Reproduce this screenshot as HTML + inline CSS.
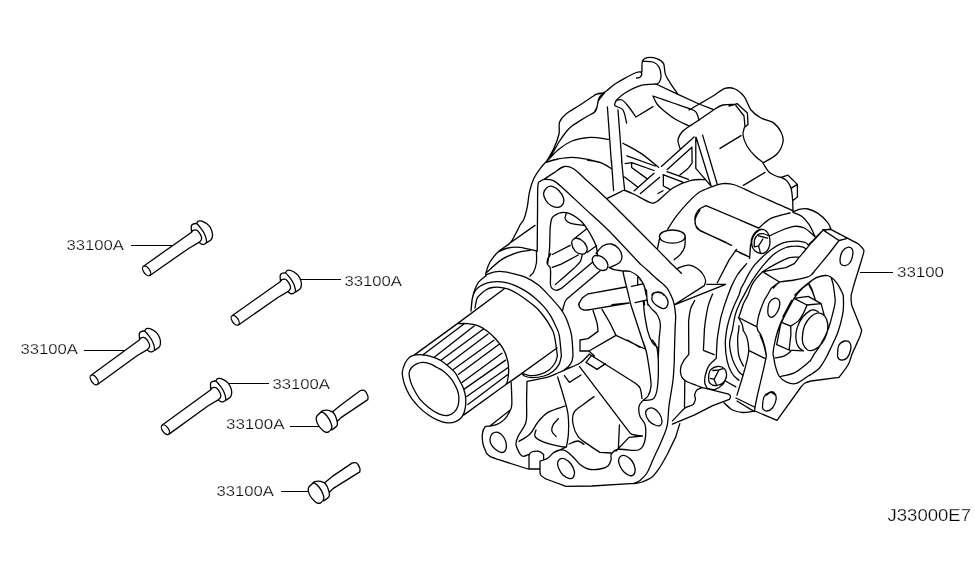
<!DOCTYPE html>
<html><head><meta charset="utf-8"><title>33100</title>
<style>
html,body{margin:0;padding:0;background:#fff;}
body{width:975px;height:566px;overflow:hidden;position:relative;font-family:"Liberation Sans",sans-serif;}
svg{position:absolute;left:0;top:0;will-change:transform;}
.l{fill:none;stroke:#000;stroke-width:1.3;stroke-linecap:round;stroke-linejoin:round;}
text{font-family:"Liberation Sans",sans-serif;font-size:15.2px;fill:#000;stroke:#fff;stroke-width:0.25px;}
</style></head><body>
<svg width="975" height="566" viewBox="0 0 975 566">
<g class="l"><path d="M144.2 265.7L191.6 232.2M150.2 275.2L189.0 248.2L199.4 242.1M191.6 232.2C191.6 231.2 191.1 227.5 191.3 226.2C191.5 224.8 192.1 224.5 193.0 224.1C193.9 223.7 195.4 223.2 196.6 223.7C197.8 224.2 198.9 225.9 200.1 227.3C201.3 228.7 202.7 230.6 203.6 232.2C204.5 233.8 205.2 235.4 205.7 237.1C206.2 238.8 206.7 240.9 206.5 242.1C206.3 243.3 205.1 243.8 204.3 244.2C203.5 244.5 202.3 244.4 201.5 244.2C200.7 244.0 200.0 243.0 199.7 242.8M191.6 232.2C191.8 231.9 192.2 230.8 193.0 230.4C193.8 230.1 195.5 229.7 196.6 230.1C197.7 230.5 198.6 231.7 199.4 232.9C200.2 234.1 201.2 235.9 201.5 237.1C201.8 238.3 201.5 239.2 201.2 240.0C200.8 240.8 199.7 241.8 199.4 242.1M196.6 223.7C196.9 223.3 197.4 221.6 198.3 221.2C199.2 220.8 200.4 220.7 201.9 221.2C203.4 221.7 205.7 222.9 207.2 224.1C208.7 225.3 209.8 226.6 210.7 228.3C211.6 230.0 212.4 232.5 212.5 234.3C212.6 236.1 212.4 237.9 211.4 239.3C210.4 240.7 207.3 242.2 206.5 242.8M232.8 315.2L280.5 281.5M238.8 324.7L277.9 297.5L288.3 291.4M280.5 281.5C280.4 280.5 280.0 276.9 280.2 275.5C280.4 274.1 281.0 273.8 281.9 273.4C282.8 273.0 284.3 272.5 285.5 273.0C286.7 273.5 287.8 275.2 289.0 276.6C290.2 278.0 291.6 279.9 292.5 281.5C293.4 283.1 294.1 284.8 294.6 286.4C295.1 288.0 295.6 290.2 295.4 291.4C295.2 292.6 294.0 293.1 293.2 293.5C292.4 293.9 291.2 293.7 290.4 293.5C289.6 293.3 288.9 292.3 288.6 292.1M280.5 281.5C280.7 281.2 281.1 280.1 281.9 279.7C282.7 279.3 284.4 279.0 285.5 279.4C286.6 279.8 287.5 281.0 288.3 282.2C289.1 283.4 290.1 285.2 290.4 286.4C290.7 287.6 290.5 288.5 290.1 289.3C289.8 290.1 288.6 291.0 288.3 291.4M285.5 273.0C285.8 272.6 286.3 270.9 287.2 270.5C288.1 270.1 289.3 270.0 290.8 270.5C292.3 271.0 294.6 272.2 296.1 273.4C297.6 274.6 298.7 275.9 299.6 277.6C300.5 279.3 301.3 281.8 301.4 283.6C301.5 285.4 301.3 287.2 300.3 288.6C299.3 290.0 296.2 291.5 295.4 292.1M91.8 374.8L139.6 339.7M97.8 384.3L137.0 355.7L147.4 349.6M139.6 339.7C139.6 338.7 139.1 335.0 139.3 333.7C139.5 332.4 140.1 332.0 141.0 331.6C141.9 331.2 143.4 330.7 144.6 331.2C145.8 331.7 146.9 333.4 148.1 334.8C149.3 336.2 150.7 338.1 151.6 339.7C152.5 341.3 153.2 343.0 153.7 344.6C154.2 346.2 154.7 348.4 154.5 349.6C154.3 350.8 153.1 351.4 152.3 351.7C151.5 352.0 150.3 351.9 149.5 351.7C148.7 351.5 148.0 350.5 147.7 350.3M139.6 339.7C139.8 339.4 140.2 338.2 141.0 337.9C141.8 337.5 143.5 337.2 144.6 337.6C145.7 338.0 146.6 339.2 147.4 340.4C148.2 341.6 149.2 343.4 149.5 344.6C149.8 345.8 149.5 346.7 149.2 347.5C148.8 348.3 147.7 349.2 147.4 349.6M144.6 331.2C144.9 330.8 145.4 329.1 146.3 328.7C147.2 328.3 148.4 328.2 149.9 328.7C151.4 329.2 153.7 330.4 155.2 331.6C156.7 332.8 157.8 334.1 158.7 335.8C159.6 337.5 160.4 340.0 160.5 341.8C160.6 343.6 160.4 345.4 159.4 346.8C158.4 348.2 155.3 349.7 154.5 350.3M163.0 424.6L210.8 389.7M169.0 434.1L208.2 405.7L218.6 399.6M210.8 389.7C210.8 388.7 210.3 385.0 210.5 383.7C210.7 382.4 211.3 382.0 212.2 381.6C213.1 381.2 214.6 380.7 215.8 381.2C217.0 381.7 218.1 383.4 219.3 384.8C220.5 386.2 221.9 388.1 222.8 389.7C223.7 391.3 224.4 393.0 224.9 394.6C225.4 396.2 225.9 398.4 225.7 399.6C225.5 400.8 224.3 401.4 223.5 401.7C222.7 402.0 221.5 401.9 220.7 401.7C219.9 401.5 219.2 400.5 218.9 400.3M210.8 389.7C211.0 389.4 211.4 388.2 212.2 387.9C213.0 387.5 214.7 387.2 215.8 387.6C216.9 388.0 217.8 389.2 218.6 390.4C219.4 391.6 220.4 393.4 220.7 394.6C221.0 395.8 220.8 396.7 220.4 397.5C220.1 398.3 218.9 399.2 218.6 399.6M215.8 381.2C216.1 380.8 216.6 379.1 217.5 378.7C218.4 378.3 219.6 378.2 221.1 378.7C222.6 379.2 224.9 380.4 226.4 381.6C227.9 382.8 229.0 384.1 229.9 385.8C230.8 387.5 231.6 390.0 231.7 391.8C231.8 393.6 231.6 395.4 230.6 396.8C229.6 398.2 226.5 399.7 225.7 400.3M316.4 417.1C316.8 415.6 318.5 414.2 319.6 413.4C320.7 412.6 321.6 411.9 322.8 412.3C324.0 412.7 325.7 414.3 327.0 416.0C328.3 417.7 329.9 420.4 330.7 422.4C331.5 424.3 332.1 426.1 331.8 427.7C331.5 429.3 329.8 431.2 328.6 431.9C327.5 432.6 326.3 432.6 324.9 431.9C323.5 431.2 321.4 429.3 320.1 427.7C318.8 426.1 317.6 424.2 317.0 422.4C316.4 420.6 316.0 418.6 316.4 417.1ZM319.6 413.4C320.1 412.9 321.3 411.2 322.8 410.7C324.3 410.2 326.8 410.0 328.6 410.4C330.4 410.8 332.1 411.3 333.4 412.8C334.7 414.3 336.0 417.1 336.6 419.2C337.2 421.3 337.9 423.8 337.1 425.6C336.3 427.4 332.7 429.1 331.8 429.8M333.0 411.5L340.3 405.4L360.4 390.6M360.4 390.6C361.1 390.6 363.4 389.7 364.6 390.6C365.8 391.5 367.3 394.4 367.8 395.9C368.3 397.4 367.8 399.0 367.8 399.6M337.2 421.5L341.0 417.6L367.8 399.6M308.4 488.1C308.8 486.6 310.5 485.2 311.6 484.4C312.7 483.6 313.6 482.9 314.8 483.3C316.0 483.7 317.7 485.3 319.0 487.0C320.3 488.7 321.9 491.4 322.7 493.4C323.5 495.3 324.1 497.1 323.8 498.7C323.5 500.3 321.8 502.2 320.6 502.9C319.5 503.6 318.3 503.6 316.9 502.9C315.5 502.2 313.4 500.3 312.1 498.7C310.8 497.1 309.6 495.2 309.0 493.4C308.4 491.6 308.0 489.6 308.4 488.1ZM311.6 484.4C312.1 483.9 313.3 482.2 314.8 481.7C316.3 481.2 318.8 481.0 320.6 481.4C322.4 481.8 324.1 482.3 325.4 483.8C326.7 485.3 328.0 488.1 328.6 490.2C329.2 492.3 329.9 494.8 329.1 496.6C328.3 498.4 324.7 500.1 323.8 500.8M325.0 482.5L332.3 476.4L352.4 462.9M352.4 462.9C353.1 462.9 355.4 462.0 356.6 462.9C357.8 463.8 359.3 466.7 359.8 468.2C360.3 469.7 359.8 471.3 359.8 471.9M329.2 492.5L333.0 488.6L359.8 471.9M595.0 94.4C596.5 94.1 600.7 94.3 604.0 92.6C607.3 90.9 611.2 86.6 615.0 84.0C618.8 81.4 623.7 78.8 627.0 77.0C630.3 75.2 632.7 73.8 635.0 73.0C637.3 72.2 639.5 71.7 640.6 72.0C641.7 72.3 641.8 74.1 641.6 75.0C641.4 75.9 640.2 77.1 639.4 77.6C638.6 78.1 637.1 77.9 636.6 78.0M642.0 71.6C642.1 69.9 641.5 63.7 642.4 61.4C643.3 59.1 644.9 58.0 647.4 57.6C649.9 57.2 654.7 57.8 657.4 58.8C660.1 59.8 662.3 61.0 663.6 63.6C664.9 66.2 664.2 71.1 665.4 74.4C666.6 77.7 668.5 80.3 670.6 83.6C672.7 86.9 676.8 92.6 678.0 94.4M642.4 61.4C644.2 61.5 650.2 61.1 653.0 62.0C655.8 62.9 657.7 64.7 659.0 67.0C660.3 69.3 660.9 73.5 661.0 76.0C661.1 78.5 660.2 80.6 659.4 82.0C658.6 83.4 656.6 84.0 656.0 84.4M616.0 100.4C617.5 99.2 620.8 95.5 625.0 93.0C629.2 90.5 635.8 86.9 641.0 85.4C646.2 83.9 653.5 84.2 656.0 84.0M656.0 84.0L678.0 94.4L699.0 104.0L713.0 109.4M700.0 103.6C702.2 102.3 708.8 98.5 713.0 96.0C717.2 93.5 721.3 89.6 725.0 88.4C728.7 87.2 731.8 87.7 735.0 89.0C738.2 90.3 741.3 92.9 744.0 96.4C746.7 99.9 748.2 106.4 751.0 110.0C753.8 113.6 757.3 115.9 761.0 118.0C764.7 120.1 769.7 120.1 773.0 122.4C776.3 124.7 779.3 128.7 781.0 132.0C782.7 135.3 783.7 138.3 783.0 142.0C782.3 145.7 780.2 150.6 777.0 154.0C773.8 157.4 766.2 161.0 764.0 162.4M689.0 110.0L701.0 103.0M653.0 96.0C656.3 97.2 666.3 100.7 673.0 103.0C679.7 105.3 689.0 108.2 693.0 110.0C697.0 111.8 696.0 112.3 697.0 114.0C698.0 115.7 698.7 119.3 699.0 120.4M653.0 96.0C653.7 97.3 655.3 101.7 657.0 104.0C658.7 106.3 660.0 107.5 663.0 110.0C666.0 112.5 670.7 116.3 675.0 119.0C679.3 121.7 686.7 124.8 689.0 126.0M689.0 126.4C690.7 125.3 694.7 122.9 699.0 120.0C703.3 117.1 711.0 111.5 715.0 109.0C719.0 106.5 719.7 105.8 723.0 105.0C726.3 104.2 733.0 104.5 735.0 104.4M729.0 106.0L735.0 104.4L737.0 103.6M735.0 104.4L744.0 116.0L745.0 127.0M737.0 103.6L747.4 113.0L748.0 124.4L745.0 127.0M689.0 126.4C687.8 127.3 683.8 129.7 682.0 132.0C680.2 134.3 678.3 137.3 678.0 140.0C677.7 142.7 679.7 147.0 680.0 148.4M653.0 106.6L636.0 117.0M616.0 100.4C617.0 100.3 620.0 99.1 622.0 100.0C624.0 100.9 625.7 103.2 628.0 106.0C630.3 108.8 634.7 115.2 636.0 117.0M616.0 101.0C615.8 101.8 613.8 104.1 615.0 105.6C616.2 107.1 621.1 107.1 623.0 110.0C624.9 112.9 626.0 120.8 626.6 123.0M607.4 107.0L611.4 163.0M618.0 110.0L622.0 163.0M604.0 93.0C603.2 93.8 600.2 95.7 599.0 98.0C597.8 100.3 597.7 104.8 597.0 107.0C596.3 109.2 595.3 110.3 595.0 111.0M720.0 148.4L741.0 135.6M744.6 127.0C744.3 128.3 742.6 131.8 743.0 135.0C743.4 138.2 745.0 142.5 747.0 146.0C749.0 149.5 752.3 153.3 755.0 156.0C757.7 158.7 761.7 161.3 763.0 162.4M546.0 162.4C547.3 160.0 551.8 152.7 554.0 148.0C556.2 143.3 558.1 138.3 559.0 134.0C559.9 129.7 558.4 125.3 559.6 122.0C560.8 118.7 562.6 116.8 566.0 114.0C569.4 111.2 575.2 108.2 580.0 105.0C584.8 101.8 591.7 97.0 595.0 95.0C598.3 93.0 598.0 93.5 599.6 93.2C601.2 92.9 603.6 93.0 604.4 93.0M604.4 93.0C603.4 94.3 599.9 98.0 598.4 101.0C596.9 104.0 597.7 108.3 595.6 111.0C593.5 113.7 589.9 114.5 586.0 117.0C582.1 119.5 575.3 123.5 572.0 126.0C568.7 128.5 568.2 129.3 566.0 132.0C563.8 134.7 561.3 138.3 559.0 142.0C556.7 145.7 554.1 150.7 552.0 154.0C549.9 157.3 547.3 160.7 546.4 162.0M546.4 162.0C548.3 160.0 553.7 153.5 558.0 150.0C562.3 146.5 566.7 143.1 572.0 141.0C577.3 138.9 583.8 137.7 590.0 137.4C596.2 137.1 605.8 139.1 609.0 139.4M546.4 162.4C548.3 161.8 553.7 159.8 558.0 159.0C562.3 158.2 567.0 157.3 572.0 157.4C577.0 157.5 583.5 158.6 588.0 159.4C592.5 160.2 597.2 161.9 599.0 162.4M544.0 179.4C545.7 178.2 550.8 174.7 554.2 172.6C557.5 170.4 561.1 167.1 564.3 166.5C567.5 165.8 570.2 166.7 573.5 168.7C576.9 170.7 578.9 173.3 584.6 178.5C590.3 183.6 595.7 188.0 607.7 199.7C619.7 211.4 646.0 237.9 656.6 248.6C667.2 259.3 668.9 261.2 671.4 263.8M537.2 251.4C537.2 245.4 537.4 226.3 537.5 215.4C537.7 204.5 537.4 191.5 537.9 185.8C538.4 180.2 539.1 182.3 540.3 181.2C541.5 180.2 542.8 179.5 544.9 179.4C547.1 179.3 550.3 179.3 553.2 180.7C556.2 182.1 557.2 183.1 562.5 187.7C567.7 192.3 576.9 201.2 584.6 208.4C592.3 215.5 599.4 221.3 608.6 230.5C617.8 239.8 634.8 258.2 640.0 263.8M543.6 193.2C543.8 191.2 545.3 188.8 546.8 187.7C548.2 186.6 550.3 185.9 552.3 186.4C554.3 186.9 556.9 188.6 558.8 190.5C560.6 192.4 562.7 195.5 563.4 197.8C564.1 200.2 563.8 202.7 562.8 204.3C561.9 205.9 559.9 207.3 557.8 207.4C555.8 207.6 552.5 206.5 550.5 205.2C548.4 203.9 546.6 201.7 545.5 199.7C544.3 197.7 543.4 195.2 543.6 193.2ZM547.7 160.0C546.5 161.3 543.0 164.7 540.7 167.8C538.4 170.8 535.7 174.5 533.8 178.5C532.0 182.4 530.7 186.8 529.6 191.4C528.5 196.0 528.3 201.6 527.4 206.2C526.5 210.7 525.3 215.6 524.1 218.7C522.8 221.8 520.7 223.9 520.0 225.0M547.7 263.8C548.0 261.2 549.1 255.1 549.5 248.6C550.0 242.1 549.7 230.1 550.5 224.6C551.2 219.1 551.5 217.8 554.2 215.8C556.8 213.8 561.7 211.8 566.2 212.6C570.6 213.5 576.9 217.4 580.9 220.9C584.9 224.5 587.6 229.7 590.2 233.8C592.7 238.0 594.8 242.2 596.1 245.8C597.3 249.5 597.3 254.3 597.5 256.0M566.2 213.5C566.0 214.5 564.6 217.5 565.2 219.1C565.9 220.7 566.9 222.1 570.2 223.1C573.5 224.2 582.5 225.1 585.0 225.5M571.7 243.1C571.6 240.9 573.3 238.9 575.0 238.5C576.7 238.0 579.9 238.9 581.8 240.3C583.8 241.7 586.1 244.8 586.8 246.8C587.5 248.8 586.9 251.1 586.1 252.3C585.3 253.5 583.6 254.3 581.8 254.2C580.1 254.0 577.1 253.2 575.4 251.4C573.7 249.5 571.8 245.2 571.7 243.1ZM586.1 229.2L573.9 239.0M570.2 245.3L552.3 254.5M596.6 245.8L587.4 252.3M596.1 253.2C597.2 252.0 600.5 247.4 603.1 245.8C605.6 244.3 608.8 243.5 611.4 244.0C614.0 244.5 617.0 246.6 618.8 248.6C620.5 250.6 621.8 253.7 621.9 256.0C622.1 258.3 621.8 260.5 619.7 262.5C617.6 264.4 610.9 266.9 609.2 267.8M611.4 160.0L613.6 190.5M621.5 160.0L624.7 190.5M607.7 198.2C609.8 197.1 617.8 193.0 620.6 191.8C623.4 190.5 622.4 190.0 624.7 190.5C627.0 190.9 630.4 192.6 634.5 194.5C638.6 196.5 645.5 200.9 649.2 202.1C653.0 203.3 653.0 203.9 657.0 201.5C661.0 199.1 667.6 191.2 673.2 187.7C678.9 184.2 685.6 181.7 691.0 180.3C696.3 179.0 703.1 179.7 705.5 179.6M587.4 160.0C589.7 160.5 597.2 161.3 601.2 162.8C605.2 164.2 609.7 167.7 611.4 168.7M667.7 229.2C669.2 226.9 673.2 220.2 676.9 215.4C680.6 210.6 686.0 204.6 689.8 200.6C693.7 196.7 696.5 194.0 700.0 191.8C703.5 189.5 709.2 187.8 711.1 187.0M659.8 237.5L657.5 248.6M685.2 237.5C685.1 239.1 685.4 244.0 684.7 246.8C683.9 249.5 682.4 252.0 680.6 254.2C678.9 256.3 675.2 258.8 674.2 259.7M700.0 210.2C699.3 211.4 696.5 214.8 695.8 217.2C695.0 219.6 694.7 222.4 695.4 224.6C696.1 226.8 699.2 229.5 700.0 230.5M520.0 225.0C519.2 226.7 516.7 232.0 515.0 235.0C513.3 238.0 512.8 240.2 510.0 243.0C507.2 245.8 501.3 248.8 498.0 252.0C494.7 255.2 492.0 258.6 490.0 262.0C488.0 265.4 486.7 270.3 486.0 272.6C485.3 274.9 486.0 275.4 486.0 276.0M510.0 243.0L535.0 225.4M498.0 252.0C499.7 251.3 504.3 248.8 508.0 248.0C511.7 247.2 515.3 246.9 520.0 247.4C524.7 247.9 533.7 250.4 536.4 251.0M486.4 272.6C489.0 270.4 496.7 262.8 502.0 259.4C507.3 256.0 513.3 253.9 518.0 252.4C522.7 250.9 528.0 250.7 530.0 250.4M536.4 251.0C536.4 253.0 536.9 259.5 536.4 263.0C535.9 266.5 534.7 269.8 533.6 272.0C532.5 274.2 530.6 275.3 530.0 276.0M622.9 143.2C625.9 144.9 635.1 149.4 641.0 153.4C646.9 157.4 655.6 165.0 658.5 167.3M626.9 155.8L655.1 166.0M625.2 163.7L631.7 162.6L654.0 170.5M631.6 162.8L631.6 167.5L646.9 178.6M624.6 176.9L637.3 186.8M634.2 190.7L654.0 173.3M661.4 166.4L694.1 137.0M640.4 193.5L659.7 177.3M667.2 169.6L691.9 147.2M691.9 147.2L692.1 162.2M692.1 162.8C691.5 163.6 689.8 166.4 688.5 167.9C687.1 169.4 685.4 170.7 684.0 171.8C682.6 173.0 680.7 174.4 680.0 174.9M695.8 137.3L695.8 168.4L711.1 186.2M696.1 137.3L711.1 186.0M702.6 135.1L717.3 184.5M667.0 171.6L688.5 179.4M663.0 174.7L682.8 182.2M663.3 174.9L663.4 186.0L670.4 189.6M658.0 193.5L663.0 190.7M711.0 187.0C713.0 186.4 719.0 183.9 723.0 183.6C727.0 183.3 729.7 183.3 735.0 185.0C740.3 186.7 745.8 189.9 755.0 194.0C764.2 198.1 783.7 206.4 790.0 209.4C796.3 212.4 792.5 211.6 793.0 212.0M701.0 231.2C700.3 230.6 697.6 229.3 696.6 227.6C695.6 225.9 695.2 223.1 695.0 221.0C694.8 218.9 694.9 216.9 695.6 215.0C696.3 213.1 697.3 211.0 699.0 209.4C700.7 207.8 704.8 206.2 706.0 205.6M706.0 205.6L759.0 228.0M701.0 231.2L726.0 242.4M759.0 228.0C761.0 226.4 765.8 220.9 771.0 218.4C776.2 215.9 786.8 213.9 790.0 213.0M743.4 185.4L765.0 172.4M763.0 163.0C764.0 164.5 766.8 169.8 769.0 172.0C771.2 174.2 774.0 175.1 776.0 176.0C778.0 176.9 780.2 177.2 781.0 177.4M781.0 177.4L788.0 175.2L797.4 184.4L797.4 197.0L793.0 200.4M781.0 177.4C781.9 177.9 784.7 178.6 786.4 180.4C788.1 182.2 790.0 184.7 791.0 188.0C792.0 191.3 792.3 196.3 792.6 200.0C792.9 203.7 792.9 208.7 793.0 210.4M791.0 188.4L797.4 184.4M793.0 212.0C794.2 211.5 797.5 209.7 800.0 209.2C802.5 208.7 805.0 208.3 808.0 209.0C811.0 209.7 814.7 211.2 818.0 213.4C821.3 215.6 825.4 219.7 827.6 222.4C829.8 225.1 830.4 228.2 831.0 229.4M793.0 212.4C794.5 213.1 799.3 214.4 802.0 216.4C804.7 218.4 806.8 221.1 809.0 224.4C811.2 227.7 814.0 234.4 815.0 236.4M769.4 236.0C771.2 235.2 775.9 232.6 780.0 231.0C784.1 229.4 789.9 226.9 794.0 226.4C798.1 225.9 801.4 226.7 804.4 228.0C807.4 229.3 810.1 232.4 812.0 234.0C813.9 235.6 815.0 236.8 815.6 237.4M812.0 242.4L823.0 230.4L831.0 229.0M550.5 253.6C550.4 253.9 550.3 254.9 549.8 255.8C549.4 256.7 548.0 257.7 547.6 259.1C547.2 260.5 547.0 262.7 547.4 264.1C547.8 265.5 549.6 266.1 550.1 267.4C550.6 268.8 550.5 269.3 550.6 272.1C550.7 275.0 550.2 281.8 550.5 284.5C550.7 287.2 551.1 287.5 552.1 288.4C553.0 289.4 554.7 290.3 556.3 290.3C557.9 290.3 560.7 288.5 561.6 288.2M561.6 288.2L591.9 262.8M552.3 267.4L561.2 264.1L578.3 255.0M582.3 254.8C581.9 255.9 581.5 259.4 580.2 261.6C578.8 263.8 578.1 264.3 574.0 268.2C569.8 272.0 558.5 281.8 555.4 284.5M592.2 259.7C592.2 258.4 592.8 257.0 593.8 256.3C594.8 255.6 596.3 255.0 598.1 255.4C599.8 255.8 602.7 257.1 604.3 258.5C605.9 259.9 607.3 262.3 607.7 264.1C608.2 265.8 607.6 267.9 606.8 269.0C605.9 270.1 604.3 270.6 602.8 270.5C601.3 270.4 599.0 269.5 597.5 268.4C596.0 267.3 594.7 265.5 593.8 264.1C592.9 262.6 592.2 261.0 592.2 259.7ZM600.0 270.9L566.5 299.3M566.5 299.3C566.2 299.8 565.1 301.5 564.7 302.4C564.3 303.4 564.2 304.5 564.1 304.9M609.2 267.4C610.1 267.8 611.9 269.1 614.2 269.6C616.4 270.2 620.2 270.6 622.8 270.9C625.5 271.2 627.8 270.6 630.3 271.5C632.7 272.4 635.6 274.2 637.7 276.1C639.7 277.9 641.3 280.2 642.6 282.6C644.0 285.1 644.9 287.0 645.7 290.7C646.6 294.4 647.5 302.5 647.8 304.9M622.8 270.9C623.1 272.3 624.0 276.4 624.7 279.5C625.4 282.6 626.1 285.2 627.2 289.4C628.2 293.7 630.3 302.3 630.9 304.9M637.7 277.3L637.7 285.1M631.5 286.3L642.9 283.9M578.5 304.9C579.1 303.8 580.4 300.2 582.0 298.3C583.6 296.5 587.2 294.5 588.2 293.8M588.2 293.8L625.9 287.0M635.2 302.7L646.3 300.2M644.1 300.6L644.6 304.9M612.0 304.7L629.0 303.0M630.8 304.8L645.0 348.0M579.0 303.0C579.1 303.7 578.8 306.2 579.6 307.4C580.4 308.6 582.3 309.6 584.0 310.0C585.7 310.4 589.0 309.7 590.0 309.6M590.0 309.6L629.0 303.0M593.0 310.4C593.7 312.5 596.2 319.6 597.0 323.0C597.8 326.4 597.8 329.7 598.0 331.0M598.0 331.4L588.0 338.6L580.0 340.0L580.0 351.0L589.0 351.0L616.0 335.4M602.0 309.4L610.0 323.0L616.0 335.4L645.0 349.0M589.4 351.4L594.4 356.0M564.0 305.0L562.4 311.0M485.6 276.0C484.3 277.2 480.1 279.8 478.0 283.0C475.9 286.2 474.2 290.7 473.0 295.4C471.8 300.1 471.3 308.4 471.0 311.0M471.0 311.0C471.2 308.8 471.6 301.4 472.4 298.0C473.1 294.6 474.2 292.4 475.5 290.5C476.8 288.6 478.0 287.6 480.0 286.3C482.0 285.0 484.7 283.7 487.4 282.9C490.1 282.1 493.2 281.8 496.1 281.7C499.0 281.6 501.6 281.7 504.7 282.3C507.8 282.9 511.3 284.0 514.6 285.4C517.9 286.8 521.2 288.4 524.5 290.4C527.8 292.4 531.1 294.6 534.4 297.4C537.7 300.2 541.6 304.1 544.3 307.1C547.0 310.2 548.6 312.6 550.5 315.7C552.4 318.8 554.0 322.4 555.5 325.6C557.0 328.8 558.2 330.0 559.2 335.1C560.2 340.2 561.0 352.5 561.4 356.0M475.0 308.0C475.3 306.4 476.2 300.7 477.0 298.5C477.8 296.3 478.5 296.2 480.0 294.7C481.5 293.2 484.1 290.9 486.2 289.7C488.3 288.5 490.1 287.9 492.4 287.5C494.7 287.1 497.1 287.0 499.8 287.3C502.5 287.6 505.6 288.1 508.5 289.1C511.4 290.1 514.0 291.6 517.1 293.5C520.2 295.4 523.7 297.8 527.0 300.3C530.3 302.8 534.0 305.5 536.9 308.3C539.8 311.1 542.1 314.1 544.3 317.0C546.5 319.9 548.2 322.6 549.9 325.6C551.5 328.6 553.0 330.0 554.2 335.1C555.5 340.2 556.9 352.5 557.4 356.0M486.2 274.8C487.6 274.3 491.7 272.3 494.8 271.8C497.9 271.3 501.2 271.4 504.7 271.8C508.2 272.2 512.4 273.4 515.9 274.3C519.4 275.2 522.1 275.6 525.8 277.4C529.5 279.1 534.2 281.7 538.1 284.8C542.0 287.9 545.8 292.2 549.3 295.9C552.8 299.6 557.0 304.5 559.2 307.1C561.4 309.7 561.1 309.3 562.3 311.4C563.5 313.4 565.1 315.4 566.6 319.4C568.1 323.3 570.4 329.0 571.5 335.1C572.6 341.2 572.8 352.5 573.0 356.0M402.3 372.4C402.5 369.5 403.7 366.3 404.8 363.8C405.9 361.3 407.6 359.1 409.1 357.6C410.7 356.2 411.8 355.6 414.1 355.1C416.4 354.7 419.8 354.6 422.7 354.9C425.6 355.1 428.5 355.7 431.4 356.6C434.3 357.5 437.4 358.6 440.1 360.1C442.8 361.6 445.0 363.6 447.5 365.6C450.0 367.7 452.8 369.8 454.9 372.4C457.0 375.0 458.5 378.6 459.9 381.1C461.2 383.6 462.1 384.8 463.0 387.3C463.9 389.8 465.0 392.6 465.4 395.9C465.8 399.2 465.9 403.7 465.4 407.1C464.9 410.5 463.9 413.9 462.3 416.3C460.8 418.7 458.6 420.2 456.1 421.3C453.6 422.4 450.6 423.1 447.5 422.9C444.4 422.7 440.9 421.5 437.6 420.1C434.3 418.7 430.8 416.7 427.7 414.5C424.6 412.3 421.7 409.8 419.0 407.1C416.3 404.4 413.7 401.3 411.6 398.4C409.6 395.5 408.0 392.6 406.7 389.7C405.4 386.8 404.3 384.0 403.6 381.1C402.9 378.2 402.1 375.3 402.3 372.4ZM409.1 373.0C409.3 370.7 410.4 369.0 411.6 367.5C412.9 366.0 414.6 364.7 416.6 363.8C418.6 362.9 420.9 362.2 423.4 362.3C425.9 362.4 429.1 363.5 431.4 364.4C433.7 365.3 435.1 366.5 437.0 367.5C438.9 368.5 440.3 368.9 442.5 370.5C444.7 372.1 447.8 374.8 450.0 377.4C452.2 380.0 454.1 383.1 455.5 386.0C456.9 388.9 458.2 391.4 458.6 394.7C459.0 398.0 458.8 402.8 458.0 405.8C457.2 408.8 455.4 411.0 453.7 412.6C451.9 414.2 450.0 415.3 447.5 415.5C445.0 415.7 441.9 415.2 438.8 413.9C435.7 412.6 432.0 410.1 428.9 407.7C425.8 405.3 422.8 402.6 420.3 399.6C417.8 396.6 415.8 392.8 414.1 389.7C412.5 386.6 411.2 383.9 410.4 381.1C409.6 378.3 408.9 375.3 409.1 373.0ZM457.4 323.6C459.0 323.6 464.0 323.3 467.3 323.6C470.6 323.9 473.9 324.2 477.2 325.4C480.5 326.6 484.0 328.7 487.1 331.0C490.2 333.3 493.0 336.0 495.7 339.0C498.4 342.0 501.2 345.4 503.2 348.9C505.2 352.4 506.6 356.6 507.5 360.1C508.4 363.6 508.7 366.5 508.7 370.0C508.7 373.5 508.0 378.6 507.5 381.1C507.0 383.6 505.9 384.2 505.6 384.8M414.1 355.1L457.4 323.6L504.0 289.0M422.7 355.1L463.6 324.2M433.9 357.6L474.1 326.0M441.3 360.1L483.4 329.1M446.9 365.0L488.0 334.0M453.7 369.3L493.9 340.3M458.6 374.3L498.8 344.6M462.3 382.3L501.9 353.3M464.2 389.1L505.6 360.1M466.7 396.5L508.1 367.5M467.9 404.6L508.1 374.3M463.6 415.1L505.6 384.8L518.0 376.1L557.0 348.0M557.4 356.0C557.0 357.2 556.4 360.7 555.0 363.0C553.6 365.3 551.5 368.1 549.0 370.0C546.5 371.9 543.2 373.5 540.0 374.4C536.8 375.3 532.8 375.7 530.0 375.6C527.2 375.5 524.2 373.9 523.0 373.6M561.4 356.0C561.0 357.4 560.4 361.8 559.0 364.4C557.6 367.0 555.5 369.5 553.0 371.4C550.5 373.3 547.4 375.0 544.0 376.0C540.6 377.0 535.7 377.6 532.4 377.6C529.1 377.6 526.1 376.8 524.4 376.0C522.7 375.2 522.4 373.5 522.0 373.0M573.0 356.0C572.8 357.0 572.4 360.2 571.6 362.0C570.8 363.8 569.3 365.7 568.0 367.0C566.7 368.3 564.7 369.5 564.0 370.0M589.0 354.4C587.5 355.8 583.8 360.5 580.0 363.0C576.2 365.5 569.7 367.7 566.0 369.4C562.3 371.1 560.7 371.8 558.0 373.0C555.3 374.2 552.7 375.5 550.0 376.4C547.3 377.3 545.8 377.6 542.0 378.4C538.2 379.2 529.5 380.9 527.0 381.4M511.2 382.4C511.3 386.1 512.1 399.7 511.8 404.6C511.5 409.5 510.6 409.5 509.4 412.0C508.2 414.5 506.5 417.3 504.4 419.4C502.3 421.5 499.5 423.3 497.0 424.4C494.5 425.5 490.8 425.9 489.6 426.2M489.6 426.2L510.0 410.2M489.6 426.2C488.8 426.3 486.2 425.7 485.0 427.0C483.8 428.3 482.7 431.2 482.4 434.0C482.1 436.8 482.3 440.8 483.0 444.0C483.7 447.2 485.8 451.5 486.4 453.0M490.0 439.0C490.2 437.3 491.1 434.7 492.4 433.6C493.7 432.5 496.1 431.8 498.0 432.4C499.9 433.0 502.2 434.9 503.6 437.0C505.0 439.1 506.2 442.7 506.4 445.0C506.6 447.3 505.9 449.8 505.0 451.0C504.1 452.2 502.7 452.7 501.0 452.4C499.3 452.1 496.7 450.4 495.0 449.0C493.3 447.6 491.8 445.7 491.0 444.0C490.2 442.3 489.8 440.7 490.0 439.0ZM527.0 381.4C526.9 384.5 526.7 393.6 526.6 400.0C526.5 406.4 527.0 415.3 526.4 420.0C525.8 424.7 524.4 425.7 523.0 428.4C521.6 431.1 519.2 433.7 518.0 436.4C516.8 439.1 515.8 441.6 516.0 444.4C516.2 447.2 518.8 451.6 519.4 453.0M519.0 441.4C520.8 440.2 526.8 437.2 530.0 434.0C533.2 430.8 535.0 425.6 538.0 422.0C541.0 418.4 543.5 415.1 548.0 412.4C552.5 409.7 562.2 407.1 565.0 406.0M536.0 430.0C535.8 431.1 534.0 434.5 535.0 436.4C536.0 438.3 537.8 439.7 542.0 441.4C546.2 443.1 555.9 445.5 560.0 446.4C564.1 447.3 565.3 446.9 566.4 447.0M558.4 418.6C557.5 419.7 554.1 422.9 553.0 425.0C551.9 427.1 551.5 429.5 552.0 431.4C552.5 433.3 555.3 435.6 556.0 436.4M557.6 377.0C558.7 380.5 562.3 391.8 564.0 398.0C565.7 404.2 567.3 408.0 568.0 414.0C568.7 420.0 568.7 428.5 568.4 434.0C568.1 439.5 566.7 444.8 566.4 447.0M566.4 447.0L554.4 452.4M564.4 375.6L569.4 382.4L581.0 375.0M579.4 366.4L628.0 430.4M628.0 430.4C628.7 431.1 629.6 433.5 632.0 434.4C634.4 435.3 640.7 435.7 642.4 436.0M589.0 354.0L635.0 383.0M635.0 383.0C635.8 383.8 638.8 385.4 640.0 388.0C641.2 390.6 641.7 396.7 642.0 398.4M586.0 362.4L597.0 369.4L605.4 363.6M591.4 355.6L586.0 362.4M594.0 396.6C592.3 397.8 587.3 401.4 584.0 404.0C580.7 406.6 575.8 409.1 574.0 412.4C572.2 415.7 572.3 420.0 573.0 424.0C573.7 428.0 575.5 433.0 578.0 436.4C580.5 439.8 584.3 441.7 588.0 444.4C591.7 447.1 598.0 451.1 600.0 452.4M619.4 425.0L618.4 448.0M616.0 451.0L629.0 437.4L642.4 436.0M569.0 444.0C570.5 443.5 575.5 440.9 578.0 441.0C580.5 441.1 583.0 443.8 584.0 444.4M642.4 340.0C643.1 342.0 645.1 346.3 646.4 352.0C647.7 357.7 649.2 368.3 650.0 374.0C650.8 379.7 651.3 382.7 651.0 386.4C650.7 390.1 649.3 393.7 648.0 396.0C646.7 398.3 644.5 398.7 643.0 400.4C641.5 402.1 639.5 403.7 639.0 406.4C638.5 409.1 639.0 413.4 640.0 416.4C641.0 419.4 644.1 421.1 645.0 424.4C645.9 427.7 645.9 432.8 645.6 436.4C645.3 440.0 644.2 443.7 643.0 446.0C641.8 448.3 640.2 449.3 638.4 450.0C636.6 450.7 633.1 450.3 632.0 450.4M652.4 340.0C653.2 341.3 656.0 343.3 657.0 348.0C658.0 352.7 658.4 361.0 658.4 368.0C658.4 375.0 657.9 384.8 657.0 390.0C656.1 395.2 655.2 397.3 653.0 399.0C650.8 400.7 645.5 400.2 644.0 400.4M645.6 413.0C645.5 410.9 647.0 409.3 648.4 408.6C649.8 407.9 652.1 407.7 654.0 408.6C655.9 409.5 658.3 411.9 659.6 414.0C660.9 416.1 661.9 419.1 662.0 421.0C662.1 422.9 661.2 424.9 660.0 425.6C658.8 426.3 656.8 425.8 655.0 425.0C653.2 424.2 650.6 423.0 649.0 421.0C647.4 419.0 645.7 415.1 645.6 413.0ZM674.4 359.0C674.2 362.5 673.9 372.2 673.0 380.0C672.1 387.8 670.0 398.3 669.0 406.0C668.0 413.7 668.5 420.0 667.0 426.4C665.5 432.8 661.8 440.0 660.0 444.4C658.2 448.8 656.7 451.6 656.0 453.0M675.0 438.4L668.0 453.0M627.4 340.0L640.0 347.4M486.4 453.0C487.0 453.6 488.1 455.3 490.0 456.4C491.9 457.5 496.7 458.9 498.0 459.4M498.0 459.4L528.0 469.0M519.4 453.0C520.0 453.6 521.4 456.2 523.0 456.4C524.6 456.6 528.0 454.7 529.0 454.4M529.0 469.0L529.0 455.0M529.0 455.0C529.4 454.5 529.9 452.6 531.6 452.0C533.3 451.4 537.0 451.0 539.0 451.4C541.0 451.8 542.8 453.9 543.6 454.4M543.6 454.4L543.6 460.0L540.0 461.2L540.0 469.0L528.4 469.0M540.0 469.0C540.1 470.0 539.6 473.3 540.6 475.0C541.6 476.7 545.1 478.3 546.0 479.0M546.0 479.0L566.0 486.4L592.0 486.0L634.0 483.4M656.0 453.0C655.3 454.5 653.5 458.7 652.0 462.0C650.5 465.3 649.0 469.9 647.0 473.0C645.0 476.1 642.2 478.7 640.0 480.4C637.8 482.1 635.0 482.9 634.0 483.4M668.0 453.0C666.7 455.3 662.7 463.0 660.0 467.0C657.3 471.0 655.0 474.5 652.0 477.0C649.0 479.5 645.0 480.9 642.0 482.0C639.0 483.1 635.3 483.3 634.0 483.6M557.6 463.0C557.8 461.3 558.8 459.7 560.0 459.0C561.2 458.3 563.2 458.2 565.0 459.0C566.8 459.8 569.4 461.9 571.0 464.0C572.6 466.1 574.1 469.3 574.4 471.6C574.7 473.9 573.9 476.5 573.0 477.6C572.1 478.7 570.7 478.8 569.0 478.4C567.3 478.0 564.7 476.6 563.0 475.0C561.3 473.4 559.9 471.0 559.0 469.0C558.1 467.0 557.4 464.7 557.6 463.0ZM618.6 460.0C618.8 458.3 619.8 456.7 621.0 456.0C622.2 455.3 624.2 455.2 626.0 456.0C627.8 456.8 630.5 458.9 632.0 461.0C633.5 463.1 634.7 466.2 635.0 468.4C635.3 470.6 634.8 473.2 634.0 474.4C633.2 475.6 631.7 476.0 630.0 475.6C628.3 475.2 625.7 473.6 624.0 472.0C622.3 470.4 620.9 468.0 620.0 466.0C619.1 464.0 618.4 461.7 618.6 460.0ZM543.6 460.0C544.3 459.7 546.3 459.3 548.0 458.0C549.7 456.7 552.0 453.7 554.0 452.4C556.0 451.1 557.9 450.2 560.0 450.0C562.1 449.8 564.1 449.9 566.4 451.2C568.7 452.5 571.7 455.8 574.0 458.0C576.3 460.2 577.7 462.6 580.0 464.4C582.3 466.2 584.7 468.2 588.0 469.0C591.3 469.8 596.7 469.5 600.0 469.0C603.3 468.5 606.2 467.5 608.0 466.0C609.8 464.5 610.4 462.0 611.0 460.0C611.6 458.0 610.2 455.8 611.4 454.0C612.6 452.2 614.6 450.0 618.0 449.4C621.4 448.8 629.7 450.2 632.0 450.4M600.0 452.4L611.4 453.0M671.4 263.7L681.4 273.2M640.0 263.7C641.2 264.8 644.7 267.7 647.4 270.2C650.1 272.6 653.4 275.8 656.1 278.2C658.8 280.6 661.6 282.6 663.5 284.4C665.4 286.1 666.2 286.9 667.5 288.7C668.7 290.5 670.4 294.1 670.9 295.1M677.7 268.3C678.5 268.0 680.1 267.1 682.1 266.6C684.0 266.1 687.0 264.9 689.5 265.2C692.0 265.5 694.6 266.8 696.9 268.3C699.2 269.8 701.7 272.4 703.1 274.5C704.5 276.5 705.4 278.8 705.6 280.7C705.8 282.5 704.5 284.8 704.3 285.6M704.3 285.6L674.3 304.8M706.8 284.4L725.6 284.4L674.3 304.8M699.4 230.2L731.6 245.4M735.3 250.4L747.6 256.2M736.5 249.4L729.1 259.9L717.3 282.8M750.7 244.8L749.5 258.4M746.6 263.6C745.2 265.4 740.2 270.8 737.7 274.5C735.3 278.2 733.4 282.2 731.8 285.6C730.2 289.0 728.7 293.4 728.1 294.9M640.0 279.4C640.6 280.3 642.7 282.0 643.7 284.6C644.7 287.2 645.8 293.4 646.2 295.1M651.8 295.1C652.1 294.8 652.3 293.2 653.9 292.8C655.4 292.4 659.4 292.4 661.0 292.8C662.7 293.2 663.3 294.8 663.8 295.1M824.1 230.6L839.0 240.5M839.0 240.5L846.6 238.7M839.0 240.5L829.1 253.5L814.1 271.6M823.0 230.4L808.7 244.8M840.2 258.2C840.5 256.0 841.4 252.6 842.7 250.8C843.9 249.0 846.1 247.6 847.6 247.3C849.2 247.0 851.1 247.7 852.0 248.9C852.8 250.1 853.1 252.2 852.8 254.5C852.5 256.8 851.4 260.7 850.1 262.5C848.8 264.4 846.7 265.4 845.2 265.6C843.6 265.8 841.7 265.0 840.8 263.8C840.0 262.5 839.9 260.4 840.2 258.2ZM860.0 264.6L856.9 275.1M751.8 244.6C751.5 242.2 752.2 238.5 753.4 236.2C754.5 233.8 756.7 231.6 758.6 230.6C760.5 229.6 763.0 229.1 764.7 230.0C766.5 230.9 768.2 233.5 769.1 235.9C769.9 238.4 770.1 242.3 769.7 244.8C769.3 247.4 768.0 250.0 766.6 251.4C765.2 252.8 763.0 253.6 761.0 253.5C759.1 253.4 756.4 252.3 754.8 250.8C753.3 249.3 752.0 247.0 751.8 244.6ZM754.2 246.4C754.3 245.3 754.0 241.6 754.6 239.6C755.2 237.7 756.6 235.7 757.9 234.7C759.3 233.7 761.2 233.6 762.9 233.7C764.5 233.8 767.0 235.0 767.8 235.3M758.6 235.9L767.5 238.2M762.9 239.0L758.6 245.8L754.6 246.8M758.6 245.8L760.4 252.9M750.9 245.2C751.0 244.0 750.9 240.4 751.8 238.2C752.6 235.9 754.4 233.1 756.1 231.6C757.8 230.1 761.0 229.5 762.0 229.1M750.5 244.8L749.6 258.4M740.0 252.9L749.6 257.2M740.0 220.1L758.6 228.1M731.8 285.6C731.2 287.2 729.3 291.7 728.1 294.9C726.9 298.0 725.9 300.9 724.7 304.5C723.6 308.2 722.1 312.6 721.0 316.9C720.0 321.2 719.0 327.9 718.6 330.1M712.6 294.0C711.9 295.9 709.5 301.1 708.4 305.2C707.3 309.2 706.5 314.0 705.8 318.1C705.1 322.3 704.6 328.1 704.3 330.1M738.4 317.5L756.9 326.8M779.2 282.3C777.9 283.2 773.6 285.9 771.8 287.8C769.9 289.8 769.3 292.0 768.0 294.0C766.8 296.1 765.6 297.6 764.3 300.2C763.1 302.8 761.7 306.5 760.6 309.5C759.6 312.5 758.8 315.3 758.1 318.1C757.5 321.0 757.1 325.4 756.9 326.8M738.6 317.8C739.2 318.9 741.3 322.3 742.1 324.3C742.8 326.4 743.1 329.2 743.3 330.1M756.9 326.8L757.8 330.1M739.0 325.6L738.7 330.1M767.8 310.7C767.9 308.6 768.2 304.7 769.3 302.7C770.4 300.6 772.7 298.9 774.2 298.4C775.8 297.8 777.6 298.6 778.6 299.6C779.5 300.6 780.0 302.5 779.8 304.5C779.6 306.6 778.6 309.9 777.3 312.0C776.1 314.1 773.8 316.5 772.4 317.2C770.9 317.8 769.4 316.7 768.7 315.7C767.9 314.6 767.7 312.9 767.8 310.7ZM808.9 284.4C809.5 285.7 811.5 289.6 812.6 292.2C813.7 294.7 814.9 298.4 815.3 299.6M793.8 298.6C792.6 300.8 788.7 307.9 786.6 312.0C784.5 316.0 782.5 320.1 781.3 323.1C780.0 326.1 779.5 329.0 779.2 330.1M741.1 288.1C740.7 289.2 740.2 291.7 739.0 294.9C737.7 298.1 735.1 303.1 733.4 307.3C731.8 311.4 730.2 315.8 729.1 319.6C727.9 323.4 727.0 328.4 726.6 330.1M747.8 288.1C747.2 289.2 745.5 292.3 744.2 294.9C742.8 297.5 741.1 300.2 739.6 303.5C738.1 306.8 736.5 310.2 735.3 314.7C734.1 319.1 732.9 327.6 732.4 330.1M762.7 271.8C761.9 272.6 759.3 275.0 757.5 277.1C755.8 279.2 753.8 281.4 752.2 284.4C750.6 287.3 749.4 291.7 748.0 294.9C746.6 298.1 744.9 300.3 743.5 303.5C742.2 306.8 740.7 312.0 739.8 314.4C739.0 316.8 738.8 317.3 738.6 317.9M808.7 245.4C808.1 244.9 807.3 243.2 805.4 242.5C803.5 241.8 800.1 241.2 797.3 241.1C794.5 241.0 791.4 241.2 788.4 241.7C785.4 242.2 782.3 243.1 779.5 244.4C776.7 245.6 774.4 247.3 771.6 249.3C768.8 251.4 765.5 254.2 762.7 256.7C759.9 259.3 757.1 262.1 754.7 264.9C752.4 267.7 750.5 270.8 748.8 273.6C747.2 276.3 746.1 279.1 744.8 281.5C743.6 283.9 741.7 287.0 741.1 288.1M806.4 249.0C805.7 248.7 804.1 247.3 802.2 246.8C800.4 246.4 797.8 246.0 795.3 246.1C792.8 246.1 790.0 246.3 787.4 247.0C784.8 247.8 782.1 249.0 779.5 250.5C776.8 252.0 774.2 253.9 771.6 256.2C768.9 258.6 766.1 261.9 763.7 264.9C761.2 267.8 758.8 270.8 756.7 273.8C754.6 276.7 752.5 280.1 751.0 282.5C749.5 284.9 748.3 287.2 747.8 288.1M762.7 271.8L769.6 270.3L785.9 267.6L794.3 263.7M794.3 263.7C795.2 262.6 797.3 259.7 799.3 257.2C801.3 254.8 803.6 252.2 806.2 249.0C808.8 245.8 812.6 241.0 815.1 238.1C817.6 235.3 820.1 233.0 821.1 232.0M762.7 271.8C764.6 270.6 770.1 267.0 774.5 264.7C779.0 262.3 785.4 259.0 789.4 257.7C793.4 256.5 797.0 257.3 798.5 257.2M764.1 272.6L779.5 282.0M779.5 282.0C782.0 281.7 789.7 280.8 794.3 280.0C798.9 279.2 804.3 278.2 807.2 277.2C810.1 276.3 810.5 275.3 811.7 274.4C812.8 273.4 813.7 272.1 814.1 271.6M779.5 282.2C779.0 282.6 777.5 283.5 776.5 284.5C775.5 285.4 774.0 287.5 773.5 288.1M826.0 275.3C824.4 275.6 819.1 276.1 816.1 277.5C813.1 278.9 810.4 281.9 808.2 283.7C806.0 285.4 804.4 286.6 802.7 288.1C801.1 289.7 799.7 291.2 798.3 292.9C796.8 294.6 794.7 297.5 794.0 298.4M808.4 283.5L810.4 288.1M822.7 229.7L830.7 229.3L857.9 243.6M857.9 243.6C858.6 244.2 860.9 246.4 861.9 247.5C862.9 248.7 863.7 249.2 863.9 250.4C864.1 251.6 863.3 254.0 863.1 254.7M863.1 254.7L859.2 267.7L854.2 283.8L851.1 295.1M794.8 295.1C796.1 294.0 799.9 290.2 802.3 288.1C804.6 286.0 806.8 284.2 809.1 282.5C811.3 280.8 813.3 279.0 815.9 277.8C818.5 276.7 822.1 275.6 824.5 275.5C827.0 275.3 828.7 275.7 830.7 277.0C832.8 278.2 835.2 280.9 836.9 283.1C838.7 285.4 840.2 288.6 841.2 290.6C842.3 292.6 843.0 294.4 843.3 295.1M808.7 283.1C809.2 284.2 811.1 287.3 811.9 289.3C812.7 291.3 813.4 294.2 813.7 295.1M831.0 277.2C831.3 278.4 832.6 281.6 833.2 284.6C833.8 287.6 834.4 293.4 834.7 295.1M794.0 298.4L808.2 296.4L821.2 303.6L807.0 305.0L794.0 298.4M794.0 298.4L781.0 322.1L790.7 326.1M790.7 326.1C792.0 325.2 796.2 323.0 798.4 320.9C800.5 318.8 801.9 316.1 803.3 313.5C804.7 310.8 806.4 306.4 807.0 305.0M781.0 322.1L776.7 344.6L789.1 350.0L790.9 334.5L790.7 326.1M789.1 350.2L803.3 350.8M821.2 303.8L824.3 315.6M818.1 311.6C817.5 311.4 815.8 310.3 814.4 310.1C813.1 309.9 812.1 309.4 810.1 310.6C808.1 311.8 804.8 314.4 802.7 317.2C800.6 319.9 798.5 323.6 797.4 327.1C796.2 330.6 795.7 334.9 795.9 338.2C796.0 341.5 797.1 344.8 798.4 346.9C799.6 349.0 802.7 350.2 803.5 350.8M802.4 337.0C802.6 333.8 803.2 329.2 804.5 325.8C805.9 322.5 808.5 319.0 810.7 316.8C813.0 314.6 815.8 313.0 818.1 312.8C820.5 312.7 823.0 314.1 824.6 315.9C826.2 317.7 827.3 320.7 827.7 323.6C828.0 326.5 827.8 330.2 826.8 333.5C825.8 336.8 823.9 340.7 821.9 343.4C819.8 346.1 816.8 348.5 814.4 349.6C812.1 350.7 809.5 350.8 807.6 350.0C805.8 349.1 804.2 346.8 803.3 344.6C802.4 342.5 802.2 340.1 802.4 337.0ZM781.0 322.1C780.4 323.8 778.5 328.1 777.3 332.3C776.1 336.4 774.6 343.0 773.9 346.9C773.1 350.7 773.1 353.8 773.0 355.1M791.5 300.5L782.9 316.8M760.0 335.1C760.6 336.7 762.7 341.3 763.7 344.6C764.7 348.0 765.8 353.4 766.2 355.1M834.7 295.1C834.8 296.3 835.4 299.4 835.1 302.3C834.8 305.2 834.2 307.9 833.0 312.5C831.8 317.0 830.1 324.4 828.0 329.8C826.0 335.1 823.1 340.4 820.6 344.6C818.2 348.9 814.6 353.4 813.4 355.1M843.3 295.1C843.3 296.8 843.6 301.5 843.5 304.8C843.4 308.1 843.6 310.1 842.6 314.7C841.7 319.3 839.8 327.1 837.9 332.3C836.1 337.5 833.5 342.1 831.8 345.9C830.0 349.7 828.1 353.6 827.4 355.1M851.2 295.1C851.2 295.9 851.0 298.1 851.1 299.8C851.2 301.6 851.7 304.5 851.8 305.4M851.8 305.4L861.7 330.2M861.7 330.2C861.4 331.1 861.3 332.9 860.2 335.7C859.1 338.5 856.7 343.6 855.3 346.9C853.8 350.1 852.2 353.8 851.6 355.1M704.4 330.1L703.4 350.4L714.1 354.7M718.6 330.1C718.4 331.7 717.6 335.1 717.2 339.8C716.8 344.6 716.4 355.3 716.2 358.4M716.2 358.4C715.1 359.5 711.0 362.5 709.2 365.2C707.4 367.9 706.2 371.5 705.5 374.5C704.7 377.5 704.5 380.8 704.8 383.1C705.2 385.5 706.9 387.5 707.3 388.3M726.6 330.1C726.4 332.3 725.2 338.4 725.3 343.6C725.3 348.7 726.0 355.9 727.1 360.9C728.2 365.9 730.1 370.3 732.1 373.5C734.0 376.7 737.7 379.2 738.9 380.3M732.4 330.1C732.0 332.3 729.5 338.6 729.6 343.6C729.6 348.5 731.2 355.4 732.7 359.9C734.1 364.4 736.7 368.3 738.2 370.8C739.8 373.2 741.5 374.1 742.2 374.7M738.6 330.1C738.5 331.7 737.6 335.5 737.6 339.8C737.7 344.2 737.9 351.6 738.9 355.9C739.8 360.3 742.7 364.4 743.4 366.1M743.0 330.1C743.6 331.3 745.9 334.1 746.9 337.4C747.9 340.7 748.7 346.0 748.8 349.7C748.8 353.5 748.1 355.7 747.2 359.9C746.2 364.1 744.9 368.9 743.2 374.7C741.5 380.6 738.0 391.7 737.0 395.1M749.1 350.6L764.8 358.4M757.7 330.1C758.4 331.3 760.6 333.5 762.0 337.4C763.4 341.3 765.6 349.3 766.1 353.5C766.6 357.6 766.5 355.2 765.1 362.1C763.7 369.1 758.7 389.6 757.4 395.1M708.6 377.6C708.7 375.4 708.9 372.0 710.4 370.2C712.0 368.3 715.5 366.7 717.8 366.4C720.2 366.2 723.2 367.4 724.6 368.9C726.1 370.5 726.7 373.5 726.5 375.7C726.3 378.0 725.2 380.9 723.4 382.5C721.7 384.2 718.2 385.5 716.0 385.6C713.7 385.7 711.0 384.5 709.8 383.1C708.6 381.8 708.5 379.7 708.6 377.6ZM712.9 370.5L719.1 369.8L723.7 368.3M719.1 369.8L714.1 379.4L710.4 378.4M714.1 379.4L716.6 385.2M707.3 388.3C708.6 388.5 712.2 390.2 714.7 389.6C717.3 388.9 720.8 386.5 722.8 384.4C724.7 382.3 725.9 378.2 726.5 377.0M725.9 381.3L735.8 386.9M773.5 355.9C773.8 357.6 774.4 362.7 775.4 366.1C776.3 369.4 777.2 373.3 779.1 376.0C780.9 378.7 783.6 380.9 786.5 382.2C789.4 383.4 792.5 384.6 796.4 383.4C800.3 382.2 807.7 376.2 810.0 374.7M775.4 357.8C776.8 357.5 781.4 357.3 784.0 356.2C786.6 355.1 789.7 352.1 790.8 351.2M780.3 376.6C782.8 375.9 790.2 374.8 795.2 372.3C800.1 369.7 807.5 363.0 810.0 361.1M766.7 395.1C767.4 394.7 769.2 392.4 770.7 392.4C772.1 392.4 774.8 394.7 775.6 395.1M851.6 355.2C851.0 356.8 850.1 361.3 848.0 365.0C845.9 368.7 840.5 375.3 839.0 377.4M839.0 377.4L811.0 381.0M811.0 381.0C810.0 381.3 806.7 382.0 805.0 383.0C803.3 384.0 801.7 386.3 801.0 387.0M801.0 387.0L777.0 420.4L755.0 411.0M837.6 353.0C837.8 350.9 837.8 347.0 839.0 345.0C840.2 343.0 843.2 341.3 845.0 341.0C846.8 340.7 849.1 341.5 850.0 343.0C850.9 344.5 851.1 347.5 850.6 350.0C850.1 352.5 848.6 356.3 847.0 358.0C845.4 359.7 842.5 360.1 841.0 360.0C839.5 359.9 838.6 358.8 838.0 357.6C837.4 356.4 837.4 355.1 837.6 353.0ZM762.6 405.0C762.8 403.0 762.8 399.2 764.0 397.0C765.2 394.8 768.2 392.6 770.0 392.0C771.8 391.4 774.0 392.3 775.0 393.6C776.0 394.9 776.4 397.6 776.0 400.0C775.6 402.4 773.9 406.2 772.4 408.0C770.9 409.8 768.6 410.8 767.0 411.0C765.4 411.2 763.7 410.0 763.0 409.0C762.3 408.0 762.4 407.0 762.6 405.0ZM736.0 398.0L754.4 407.0M737.0 401.0L754.4 411.6M827.4 355.2C826.7 356.5 824.6 360.6 823.0 363.0C821.4 365.4 820.2 367.6 818.0 369.6C815.8 371.6 811.3 374.3 810.0 375.2M813.4 355.2C813.2 355.7 812.6 357.0 812.0 358.0C811.4 359.0 810.3 360.7 810.0 361.2M757.4 395.2L755.0 407.0L754.4 411.6M646.5 290.0C646.6 291.2 646.7 295.2 646.9 297.4C647.1 299.7 647.0 301.8 647.7 303.6C648.5 305.5 650.0 306.9 651.4 308.6C652.9 310.2 655.1 311.7 656.4 313.5C657.7 315.4 658.8 317.6 659.5 319.7C660.1 321.8 660.4 322.6 660.4 325.9C660.3 329.2 659.5 333.8 659.1 339.5C658.8 345.2 658.4 356.7 658.2 360.1M643.4 301.4C643.6 303.6 643.9 309.8 644.6 314.7C645.4 319.7 646.5 326.5 647.7 331.1C649.0 335.7 650.4 339.4 652.1 342.2C653.8 345.0 656.9 346.8 657.9 347.8M651.8 298.7C651.8 297.2 652.1 294.8 653.3 293.7C654.5 292.6 657.0 291.6 658.9 291.9C660.7 292.1 662.9 293.4 664.4 294.9C665.9 296.5 667.5 299.2 667.9 301.1C668.3 303.1 667.7 305.5 666.9 306.7C666.1 307.9 664.7 308.7 663.2 308.6C661.7 308.5 659.3 307.1 657.6 306.1C656.0 305.1 654.3 303.6 653.3 302.4C652.3 301.1 651.8 300.1 651.8 298.7ZM671.0 295.2C671.4 296.4 673.0 299.1 673.7 302.4C674.5 305.6 675.3 310.6 675.6 314.7C675.8 318.9 675.4 322.0 675.2 327.1C675.0 332.3 674.7 340.4 674.6 345.7C674.4 351.0 674.4 356.8 674.3 359.0M694.7 300.5C694.1 301.9 691.7 305.2 690.7 308.6C689.6 312.0 688.9 318.9 688.6 320.9M688.6 320.9L688.8 354.3L684.2 359.9M684.2 359.8C683.7 360.9 681.8 364.0 681.1 366.0C680.5 368.1 680.4 370.3 680.5 372.2C680.7 374.1 681.0 375.9 682.0 377.4C683.0 379.0 684.3 380.2 686.7 381.5C689.1 382.8 694.0 384.4 696.6 385.5C699.2 386.5 701.6 387.3 702.5 387.7M684.8 381.1L684.5 406.9M702.5 387.7C701.7 388.0 698.5 388.7 697.2 389.8C695.9 390.9 695.1 392.9 694.7 394.5C694.4 396.1 695.6 397.8 695.4 399.4C695.1 401.1 694.9 402.9 693.1 404.4C691.4 405.8 687.4 406.3 684.8 408.1C682.3 409.9 679.2 414.0 678.0 415.1M702.5 387.7L728.8 394.2M728.8 394.2C729.1 394.6 730.5 395.5 730.6 396.3C730.7 397.2 729.6 398.9 729.4 399.4M729.4 399.4L712.7 405.6L694.1 415.1M724.1 402.8L730.0 408.3M678.0 415.1L672.4 420.9M694.1 415.1L672.4 424.2M679.8 423.6L675.3 438.2M724.1 402.8C725.1 403.7 728.2 407.0 730.1 408.4C731.9 409.7 733.2 410.3 735.3 411.0C737.4 411.7 739.6 412.4 742.7 412.5C745.8 412.5 752.0 411.4 753.8 411.2"/><ellipse cx="146.6" cy="270.8" rx="5.6" ry="3.0" transform="rotate(55.0 146.6 270.8)"/><ellipse cx="235.2" cy="320.3" rx="5.6" ry="3.0" transform="rotate(55.0 235.2 320.3)"/><ellipse cx="94.2" cy="379.9" rx="5.6" ry="3.0" transform="rotate(55.0 94.2 379.9)"/><ellipse cx="165.4" cy="429.7" rx="5.6" ry="3.0" transform="rotate(55.0 165.4 429.7)"/><ellipse cx="672.3" cy="236.6" rx="12.9" ry="6.6" transform="rotate(0.0 672.3 236.6)"/></g>
<g class="l" style="stroke-width:1;shape-rendering:crispEdges"><path d="M131 245.5H173M301 279.5H341M84.5 350.5H125M229 383.5H269M290.5 426.5H319M281 491.5H308M860 272.5H892.5"/></g>
<text x="66.5" y="250" textLength="57.5" lengthAdjust="spacingAndGlyphs">33100A</text>
<text x="344.5" y="285.7" textLength="57.5" lengthAdjust="spacingAndGlyphs">33100A</text>
<text x="20.5" y="354" textLength="57.5" lengthAdjust="spacingAndGlyphs">33100A</text>
<text x="272.5" y="388.7" textLength="57.5" lengthAdjust="spacingAndGlyphs">33100A</text>
<text x="226" y="429.3" textLength="58.5" lengthAdjust="spacingAndGlyphs">33100A</text>
<text x="216.5" y="495.5" textLength="57.5" lengthAdjust="spacingAndGlyphs">33100A</text>
<text x="897" y="277" textLength="47" lengthAdjust="spacingAndGlyphs">33100</text>
<text x="887.5" y="520.8" style="font-size:16px" textLength="83.5" lengthAdjust="spacingAndGlyphs">J33000E7</text>

</svg>
</body></html>
